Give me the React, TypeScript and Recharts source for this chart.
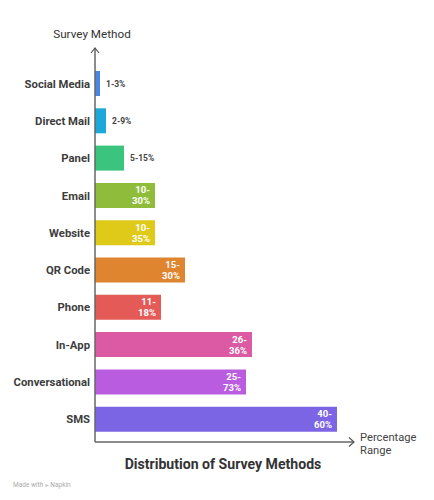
import { BarChart, Bar, XAxis, YAxis, Cell, LabelList } from 'recharts';

// categories, top to bottom
const methods = [
  'Social Media',
  'Direct Mail',
  'Panel',
  'Email',
  'Website',
  'QR Code',
  'Phone',
  'In-App',
  'Conversational',
  'SMS',
];

// range labels shown on each bar
const ranges = ['1-3%', '2-9%', '5-15%', '10-30%', '10-35%', '15-30%', '11-18%', '26-36%', '25-73%', '40-60%'];

// bar length as drawn in the picture (arbitrary index scale)
const barScores = [5, 11, 29, 60, 60, 90, 66, 157, 151, 242];

const colors = ['#4b86e6', '#1ea8d9', '#3bc47e', '#8fbd3b', '#dfca1a', '#df842f', '#e45a57', '#dc59a3', '#b95ce0', '#7b65e4'];

const data = methods.map((m, i) => ({ method: m, score: barScores[i], range: ranges[i] }));

const FONT = 'Roboto, "Noto Sans", sans-serif';

const RangeLabel = (props: any) => {
  const { x, y, width, height, index } = props;
  const text = ranges[index];
  const cy = y + height / 2;
  if (width < 40) {
    return (
      <text x={x + width + 6} y={cy} dy={3} fontSize={8.5} fontWeight={700} fill="#444" fontFamily={FONT}>
        {text}
      </text>
    );
  }
  const [a, b] = text.split('-');
  return (
    <text textAnchor="end" fontSize={9.5} fontWeight={700} fill="#fff" fontFamily={FONT}>
      <tspan x={x + width - 5} y={cy - 2}>{a}-</tspan>
      <tspan x={x + width - 5} y={cy + 9}>{b}</tspan>
    </text>
  );
};

export default function App() {
  return (
    <div style={{ position: 'absolute', left: 0, top: 0, width: 434, height: 500, background: '#fff', fontFamily: FONT }}>
      <BarChart
        width={434}
        height={500}
        data={data}
        layout="vertical"
        margin={{ top: 48, right: 80, left: 0, bottom: 56 }}
        barSize={25}
      >
        <XAxis
          type="number"
          domain={[0, 259]}
          height={2}
          tick={false}
          tickLine={false}
          axisLine={{ stroke: '#666', strokeWidth: 1.5 }}
        />
        <YAxis
          type="category"
          dataKey="method"
          width={95}
          tickLine={false}
          tickSize={0}
          tickMargin={5}
          padding={{ top: 17, bottom: 4 }}
          axisLine={{ stroke: '#666', strokeWidth: 1.5 }}
          tick={{ fontSize: 11.3, fontWeight: 700, fill: '#3d3d3d', fontFamily: FONT }}
          interval={0}
        />
        <Bar dataKey="score" isAnimationActive={false}>
          {data.map((d, i) => (
            <Cell key={d.method} fill={colors[i]} />
          ))}
          <LabelList dataKey="range" content={<RangeLabel />} />
        </Bar>
      </BarChart>
      <svg width={434} height={500} style={{ position: 'absolute', left: 0, top: 0, pointerEvents: 'none' }}>
        <polyline points="91,53 95,48 99,53" fill="none" stroke="#555" strokeWidth={1.2} />
        <polyline points="349,437.5 354,442 349,446.5" fill="none" stroke="#555" strokeWidth={1.2} />
        <text x={92} y={38} textAnchor="middle" fontSize={11.7} fill="#333" fontFamily={FONT}>
          Survey Method
        </text>
        <text x={360} y={441} fontSize={11.2} fill="#444" fontFamily={FONT}>
          Percentage
        </text>
        <text x={360} y={454} fontSize={11.2} fill="#444" fontFamily={FONT}>
          Range
        </text>
        <text x={223} y={469} textAnchor="middle" fontSize={14.1} fontWeight={700} fill="#333" fontFamily={FONT}>
          Distribution of Survey Methods
        </text>
        <text x={13} y={487} fontSize={6.5} fill="#aaa" fontFamily={FONT}>
          Made with ⪢ Napkin
        </text>
      </svg>
    </div>
  );
}
